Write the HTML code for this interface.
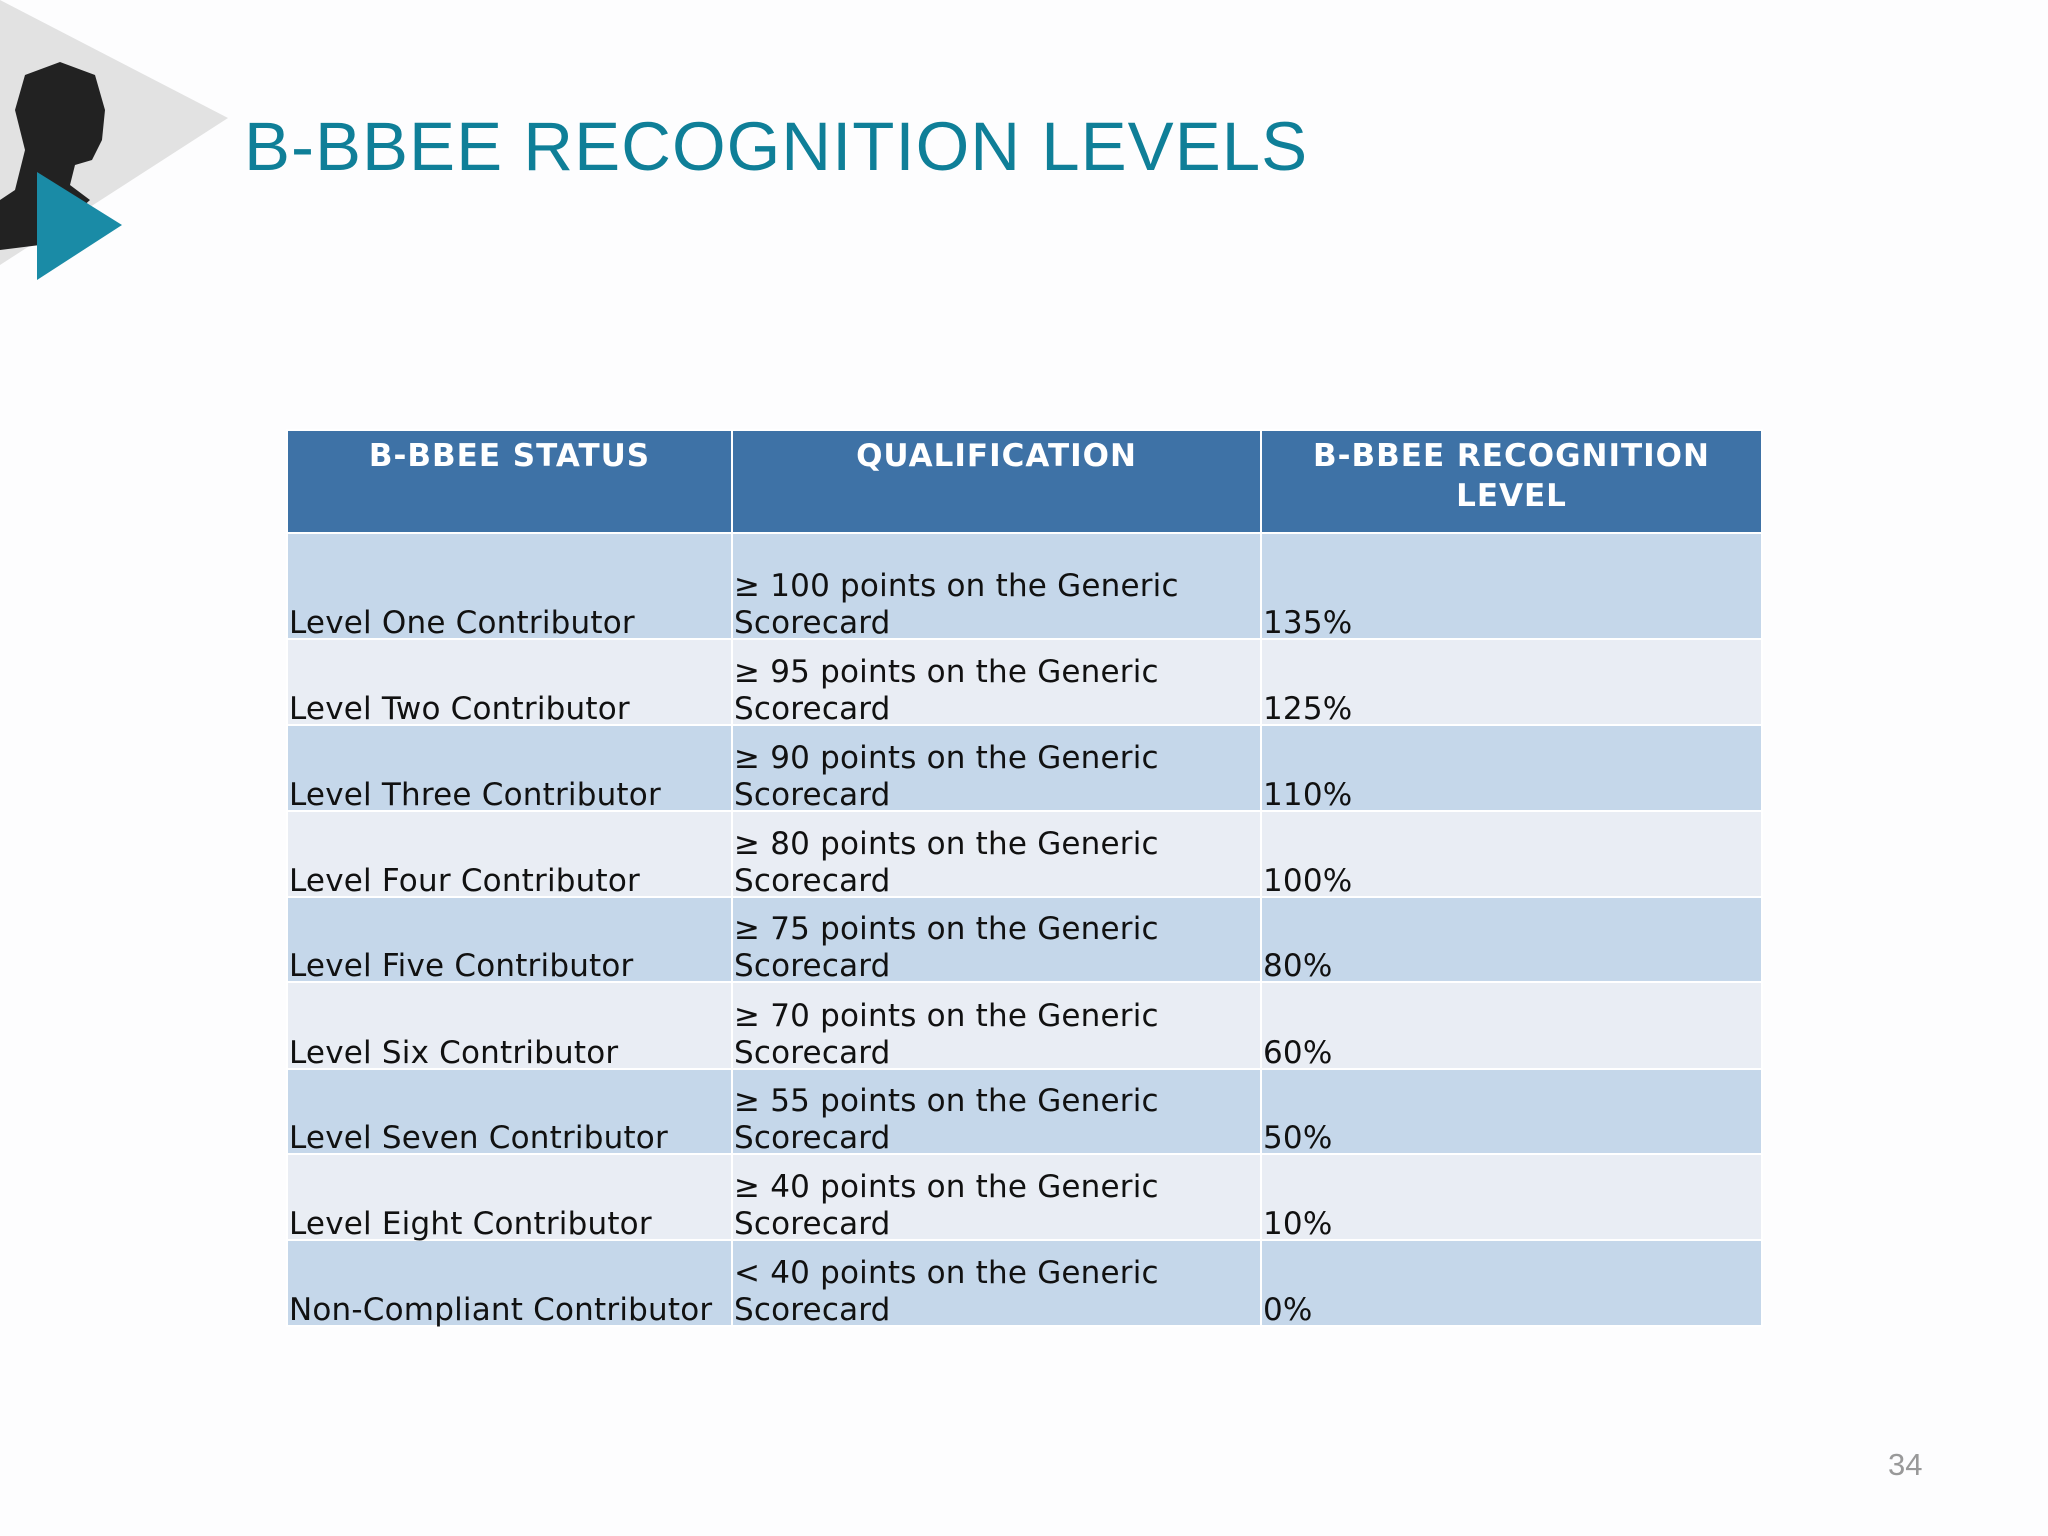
<!DOCTYPE html>
<html><head><meta charset="utf-8"><style>
body{margin:0;width:2048px;height:1536px;background:#fdfdfe;position:relative;overflow:hidden;font-family:"DejaVu Sans","Liberation Sans",sans-serif}
#title{position:absolute;left:244px;top:107px;font-family:"Liberation Sans",sans-serif;font-size:69px;color:#0f7f98;white-space:nowrap;letter-spacing:1px}
table{position:absolute;left:286px;top:429px;border-collapse:collapse;table-layout:fixed}
td,th{border:2px solid #fff;padding:0 1px;font-size:31px;line-height:37px;vertical-align:bottom;text-align:left;color:#111;letter-spacing:0.2px}
td span{position:relative;top:4px;display:block}
th{background:#3e72a6;color:#fff;text-align:center;vertical-align:top;height:96px;font-weight:bold;padding-top:5px;line-height:40px;letter-spacing:1px}
tr.o td{background:#c5d7ea}tr.e td{background:#e9edf4}
#pg{position:absolute;left:1888px;top:1447px;font-family:"Liberation Sans",sans-serif;font-size:31px;color:#999}
</style></head><body>
<svg style="position:absolute;left:0;top:0" width="240" height="320">
<polygon points="0,0 228,118 0,265" fill="#e2e2e2"/>
<path d="M0,250 L0,200 L15,190 L25,150 L15,110 L25,75 L60,62 L95,75 L105,110 L102,140 L92,160 L75,165 L70,185 L90,200 L40,245 Z" fill="#222"/>
<polygon points="37,172 122,225 37,280" fill="#1a8ba6"/>
</svg>
<div id="title">B-BBEE RECOGNITION LEVELS</div>
<table>
<colgroup><col style="width:445px"><col style="width:529px"><col style="width:501px"></colgroup>
<tr><th>B-BBEE STATUS</th><th>QUALIFICATION</th><th>B-BBEE RECOGNITION<br>LEVEL</th></tr>
<tr class="o" style="height:106px"><td><span>Level One Contributor</span></td><td><span>≥ 100 points on the Generic Scorecard</span></td><td><span>135%</span></td></tr>
<tr class="e" style="height:86px"><td><span>Level Two Contributor</span></td><td><span>≥ 95 points on the Generic Scorecard</span></td><td><span>125%</span></td></tr>
<tr class="o" style="height:86px"><td><span>Level Three Contributor</span></td><td><span>≥ 90 points on the Generic Scorecard</span></td><td><span>110%</span></td></tr>
<tr class="e" style="height:86px"><td><span>Level Four Contributor</span></td><td><span>≥ 80 points on the Generic Scorecard</span></td><td><span>100%</span></td></tr>
<tr class="o" style="height:85px"><td><span>Level Five Contributor</span></td><td><span>≥ 75 points on the Generic Scorecard</span></td><td><span>80%</span></td></tr>
<tr class="e" style="height:87px"><td><span>Level Six Contributor</span></td><td><span>≥ 70 points on the Generic Scorecard</span></td><td><span>60%</span></td></tr>
<tr class="o" style="height:85px"><td><span>Level Seven Contributor</span></td><td><span>≥ 55 points on the Generic Scorecard</span></td><td><span>50%</span></td></tr>
<tr class="e" style="height:86px"><td><span>Level Eight Contributor</span></td><td><span>≥ 40 points on the Generic Scorecard</span></td><td><span>10%</span></td></tr>
<tr class="o" style="height:86px"><td><span>Non-Compliant Contributor</span></td><td><span>&lt; 40 points on the Generic Scorecard</span></td><td><span>0%</span></td></tr>
</table>
<div id="pg">34</div>
</body></html>
